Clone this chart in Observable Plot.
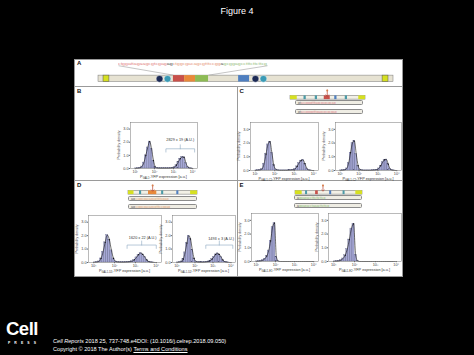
<!DOCTYPE html>
<html><head><meta charset="utf-8">
<script src="https://cdn.jsdelivr.net/npm/d3@7"></script>
<script src="https://cdn.jsdelivr.net/npm/@observablehq/plot@0.6"></script>
<style>
html,body{margin:0;padding:0;background:#000;}
#page{position:relative;width:474px;height:355px;overflow:hidden;font-family:Arial,"Liberation Sans",sans-serif;}
.a{position:absolute;white-space:nowrap;}
.seqbox{position:absolute;background:#efede4;border:0.5px solid #8c8c8c;border-radius:1.5px;font-size:3.4px;line-height:4.4px;padding-left:2px;box-sizing:border-box;white-space:nowrap;overflow:hidden;}
.lbl{position:absolute;font-weight:bold;font-size:6px;color:#111;}
sub{font-size:70%;vertical-align:-0.6px;line-height:0;}
</style></head><body><div id="page"></div>
<script>
// ---------------- data ----------------
const binWidth = 0.1;
const binStarts = [1.0,1.1,1.2,1.3,1.4,1.5,1.6,1.7,1.8,1.9,2.0,2.1,2.2,2.3,2.4,2.5,2.6,2.7,2.8,2.9,3.0,3.1,3.2,3.3,3.4,3.5,3.6,3.7,3.8,3.9];
const histB  = [0.01,0.02,0.05,0.15,0.45,1.0,1.6,2.05,1.5,0.6,0.12,0.03,0.02,0.02,0.02,0.02,0.02,0.02,0.03,0.05,0.1,0.25,0.5,0.75,0.88,0.85,0.4,0.1,0.02,0.01];
const histC1 = [0.01,0.02,0.04,0.12,0.5,1.2,1.9,2.1,1.3,0.4,0.08,0.02,0.01,0.01,0.01,0.01,0.01,0.02,0.03,0.05,0.12,0.3,0.55,0.72,0.78,0.5,0.15,0.03,0.01,0.0];
const histC2 = [0.01,0.02,0.05,0.15,0.55,1.3,2.0,2.15,1.2,0.35,0.07,0.02,0.01,0.01,0.01,0.01,0.01,0.02,0.03,0.06,0.15,0.35,0.6,0.78,0.8,0.45,0.12,0.02,0.01,0.0];
const histD1 = [0.01,0.03,0.08,0.3,0.8,1.5,2.05,1.7,0.9,0.3,0.08,0.03,0.02,0.02,0.02,0.03,0.04,0.06,0.1,0.2,0.38,0.58,0.7,0.6,0.4,0.18,0.06,0.02,0.01,0.0];
const histD2 = [0.01,0.03,0.08,0.25,0.75,1.45,2.0,1.75,0.95,0.3,0.08,0.03,0.02,0.02,0.02,0.03,0.05,0.08,0.14,0.25,0.42,0.6,0.68,0.6,0.4,0.18,0.06,0.02,0.01,0.0];
const histE1 = [0.01,0.02,0.04,0.1,0.2,0.4,0.8,1.5,2.5,2.8,0.35,0.02,0,0,0,0,0,0,0,0,0,0,0,0,0,0,0,0,0,0];
const histE2 = [0.01,0.02,0.04,0.1,0.22,0.45,0.9,1.6,2.4,2.75,0.5,0.03,0,0,0,0,0,0,0,0,0,0,0,0,0,0,0,0,0,0];
const xTicks = [1,2,3,4];
const xTickLabels = ["10¹","10²","10³","10⁴"];
const yTicks = [0,1,2,3];
const annotLabels = ["2829 ± 19 (A.U.)","1620 ± 22 (A.U.)","1493 ± 3 (A.U.)"];
const xLabels = ["GAL1","GAL1-C1","GAL1-C2","GAL1-D1","GAL1-D2","GAL1-E1","GAL1-E2"];

// genome (panel A), positions in % of construct length
const aBlockStart = [1.7, 25.4, 29.2, 32.9, 47.5, 96.3];
const aBlockEnd   = [3.7, 29.2, 32.9, 37.3, 51.2, 98.3];
const aBlockType  = ["yfp","uasA","uasB","uasC","tata","yfp"];
const aSiteAt     = [20.7, 23.4, 53.2, 55.9];
const aSiteType   = ["navy","teal","navy","teal"];
const aSeqSpan    = [6.8, 57.3];
const aSeqParts   = ["ctggattagaagcgtcgag","ag","ctggcgacagcgtttccgg","a","gcggagcctttcttcttcg"];
// mini genomes
const cBlockStart = [0, 18, 33, 45, 59, 73, 91];
const cBlockEnd   = [9, 21, 36, 53, 62, 76, 100];
const cBlockType  = ["yfp","site","site","uasA","tata","site","yfp"];
const cMarkAt = 49;
const dBlockStart = [0, 16, 29, 48, 70, 90];
const dBlockEnd   = [8, 19, 41, 51, 73, 100];
const dBlockType  = ["yfp","site","uasB","site","tata","yfp"];
const dMarkAt = 35;
const eBlockStart = [0, 15, 30, 51, 71, 90];
const eBlockEnd   = [10, 18, 34, 54, 74, 100];
const eBlockType  = ["yfp","site","uasA","tata","site","yfp"];
const eMarkAt = 41;
const cSeqs = [["gt","accgggttttagcgcgcgcag"],["gt","accggggtttgagcgcgcgag"]];
const dSeqs = [["ag","ccggcgacagcgtttttcgag"],["ag","ccggcgacagcgtttccggag"]];
const eSeqs = [["a","ggagacctttcttcttcg"],["a","ggagacctaaacttcttcg"]];

// ---------------- styles ----------------
const typeColor = {yfp:"#d6e021", uasA:"#c8504a", uasB:"#e8893a", uasC:"#8dbb55", tata:"#4f7fc0", site:"#4a9aa8", navy:"#1c2a55", teal:"#3a9ab5"};
const page = document.getElementById("page");

function place(el, left, top){
  const d = document.createElement("div");
  d.style.cssText = `position:absolute;left:${left}px;top:${top}px;line-height:0;`;
  d.appendChild(el); page.appendChild(d); return d;
}
function addHTML(html, css, cls){
  const d = document.createElement("div");
  d.className = cls || "a"; d.style.cssText += css; d.innerHTML = html; page.appendChild(d); return d;
}

// ---------------- frame ----------------
addHTML("Figure 4","left:0;width:474px;top:6px;text-align:center;color:#fff;font-size:9px;");
addHTML("","left:74px;top:59px;width:329px;height:218px;background:#fff;border:0.5px solid #999;box-sizing:border-box;");
addHTML("","left:74px;top:86px;width:329px;height:0;border-top:0.6px solid #9a9a9a;");
addHTML("","left:74px;top:179.5px;width:329px;height:0;border-top:0.6px solid #9a9a9a;");
addHTML("","left:237px;top:86px;width:0;height:191px;border-left:0.6px solid #9a9a9a;");
[["A",77,59.5],["B",77,88],["C",239.5,88],["D",77,181.5],["E",239.5,181.5]].forEach(([t,x,y])=>addHTML(t,`left:${x}px;top:${y}px;`,"lbl"));

// ---------------- genome A ----------------
{
  const left = 96, top = 62, w = 299, h = 23;
  const blocks = aBlockStart.map((s,i)=>({s, e:aBlockEnd[i], t:aBlockType[i]}));
  const sites = aSiteAt.map((x,i)=>({x, t:aSiteType[i]}));
  const callout = [
    {x1:aSeqSpan[0], y1:0.86, x2:aBlockStart[1], y2:0.45},
    {x1:aSeqSpan[1], y1:0.86, x2:aBlockEnd[3], y2:0.45}];
  const chart = Plot.plot({
    width:w, height:h, marginLeft:2, marginRight:2, marginTop:0, marginBottom:0,
    x:{domain:[0,100], axis:null}, y:{domain:[0,1], axis:null},
    style:{background:"transparent", overflow:"visible"},
    marks:[
      Plot.link(callout,{x1:"x1",y1:"y1",x2:"x2",y2:"y2",stroke:"#8a8a8a",strokeWidth:0.5}),
      Plot.rect([{s:0,e:100}],{x1:"s",x2:"e",y1:0.15,y2:0.43,fill:"#e6e2d2",stroke:"#777",strokeWidth:0.5}),
      Plot.rect(blocks,{x1:"s",x2:"e",y1:0.15,y2:0.43,fill:d=>typeColor[d.t],stroke:d=>d.t==="yfp"?"#555":"none",strokeWidth:0.5}),
      Plot.dot(sites,{x:"x",y:0.29,r:3.4,fill:d=>typeColor[d.t],stroke:"#fff",strokeWidth:0.4})
    ]});
  place(chart, left, top);
  const xs = chart.scale("x");
  const sx0 = left + xs.apply(aSeqSpan[0]), sx1 = left + xs.apply(aSeqSpan[1]);
  const colors = ["#e27f7f","#444","#e6957a","#444","#97c07e"];
  const seq = addHTML(aSeqParts.map((p,i)=>`<span style="color:${colors[i]}">${p}</span>`).join(""),
     `left:${sx0}px;top:61px;font-size:4.2px;transform-origin:0 0;`);
  const sw = seq.getBoundingClientRect().width;
  seq.style.transform = `scaleX(${(sx1-sx0)/sw})`;
}

// ---------------- mini genomes ----------------
function miniGenome(bs, be, bt, markAt, left, top, w){
  const blocks = bs.map((s,i)=>({s, e:be[i], t:bt[i]}));
  const chart = Plot.plot({
    width:w, height:11, margin:0,
    x:{domain:[0,100], axis:null}, y:{domain:[0,1], axis:null},
    style:{background:"transparent", overflow:"visible"},
    marks:[
      Plot.rect([{s:0,e:100}],{x1:"s",x2:"e",y1:0.08,y2:0.42,fill:"#f2f0e6",stroke:"#666",strokeWidth:0.5}),
      Plot.rect(blocks,{x1:"s",x2:"e",y1:0.08,y2:0.42,fill:d=>typeColor[d.t]}),
      Plot.link([{x:markAt}],{x1:"x",x2:"x",y1:0.98,y2:0.45,stroke:"#b8402e",strokeWidth:0.7,markerEnd:"arrow"}),
      Plot.dot([{x:markAt}],{x:"x",y:0.9,r:1,fill:"#d8804a"})
    ]});
  place(chart, left, top);
}
function seqBoxes(seqs, color, left, top, w, gap){
  seqs.forEach((p,i)=>addHTML(`<span style="color:#555">${p[0]}</span><span style="color:${color}">${p[1]}</span>`,
    `left:${left}px;top:${top+i*gap}px;width:${w}px;height:5px;`,"seqbox"));
}
miniGenome(cBlockStart,cBlockEnd,cBlockType,cMarkAt,290,89,75);
seqBoxes(cSeqs,"#e07e86",295,100,68,8.5);
miniGenome(dBlockStart,dBlockEnd,dBlockType,dMarkAt,128,184,69);
seqBoxes(dSeqs,"#e3a070",128,195.5,69,8.5);
miniGenome(eBlockStart,eBlockEnd,eBlockType,eMarkAt,295,184,67);
seqBoxes(eSeqs,"#8cbc72",294,194.5,68,8.5);

// ---------------- histograms ----------------
function histogram(heights, fx, fy, fw, fh, sub, annot){
  const ml = 14, mr = 1, mt = 1, mb = 8;
  const bins = binStarts.map((b,i)=>({x1:b, x2:b+binWidth, xm:b+binWidth/2, y:heights[i]}));
  const marks = [
    Plot.rectY(bins,{x1:"x1",x2:"x2",y:"y",fill:"#a6a8d6",stroke:"#55577a",strokeWidth:0.3}),
    Plot.line(bins,{x:"xm",y:"y",stroke:"#111",strokeWidth:0.6,curve:"monotone-x"}),
    Plot.dot(bins.filter((d,i)=>d.y>0.15 && i%2===1),{x:"xm",y:"y",r:0.6,fill:"#111"}),
    Plot.frame({stroke:"#777",strokeWidth:0.5}),
    Plot.axisX({ticks:xTicks,tickFormat:(d)=>xTickLabels[xTicks.indexOf(d)],tickSize:1.2,tickPadding:0.8,fontSize:3.8,label:null,stroke:"#666"}),
    Plot.axisY({ticks:yTicks,tickSize:1.2,tickPadding:0.8,fontSize:3.8,label:null,stroke:"#666"})
  ];
  if (annot){
    const {label, from, to, y, tx, ty} = annot;
    const mid = (from+to)/2;
    marks.push(
      Plot.line([{x:from,y:y-0.25},{x:from,y},{x:to,y},{x:to,y:y-0.25}],{x:"x",y:"y",stroke:"#8aa6bf",strokeWidth:0.6}),
      Plot.line([{x:mid,y},{x:mid,y:y+0.3}],{x:"x",y:"y",stroke:"#8aa6bf",strokeWidth:0.6}),
      Plot.text([{label,tx,ty}],{x:"tx",y:"ty",text:"label",fontSize:3.8,fill:"#333"}));
  }
  const chart = Plot.plot({
    width:fw+ml+mr, height:fh+mt+mb, marginLeft:ml, marginRight:mr, marginTop:mt, marginBottom:mb,
    x:{domain:[0.75,4.25]}, y:{domain:[0,3.5]},
    style:{background:"transparent", overflow:"visible", fontFamily:"Arial", color:"#444"},
    marks});
  place(chart, fx-ml, fy-mt);
  addHTML("Probability density",`left:${fx-11}px;top:${fy+fh/2}px;font-size:3.6px;color:#444;transform:translate(-50%,-50%) rotate(-90deg);`);
  addHTML(`P<sub>${sub}</sub>-YFP expression [a.u.]`,`left:${fx+fw/2}px;top:${fy+fh+6.5}px;font-size:3.8px;color:#333;transform:translateX(-50%);`);
}
histogram(histB, 130,122,67,46, xLabels[0], {label:annotLabels[0],from:2.6,to:4.1,y:1.5,tx:3.35,ty:2.15});
histogram(histC1,250,122,68,48, xLabels[1]);
histogram(histC2,335,122,66,48, xLabels[2]);
histogram(histD1,88,215,73,47, xLabels[3], {label:annotLabels[1],from:2.6,to:4.0,y:1.3,tx:3.35,ty:1.85});
histogram(histD2,172,215,63,47, xLabels[4], {label:annotLabels[2],from:2.6,to:4.1,y:1.3,tx:3.45,ty:1.8});
histogram(histE1,251,213,67,48, xLabels[5]);
histogram(histE2,328,213,73,48, xLabels[6]);

// ---------------- footer ----------------
addHTML("Cell","left:6px;top:318px;color:#fff;font-weight:bold;font-size:18.5px;letter-spacing:-0.5px;");
addHTML("P R E S S","left:8px;top:341px;color:#fff;font-size:3.4px;letter-spacing:1.6px;font-weight:bold;");
addHTML("<i>Cell Reports</i> 2018 25, 737-748.e4DOI: (10.1016/j.celrep.2018.09.050)","left:53px;top:338px;color:#fff;font-size:5.6px;");
addHTML("Copyright © 2018 The Author(s) <span style='text-decoration:underline'>Terms and Conditions</span>","left:53px;top:345.5px;color:#fff;font-size:5.6px;");
</script></body></html>
